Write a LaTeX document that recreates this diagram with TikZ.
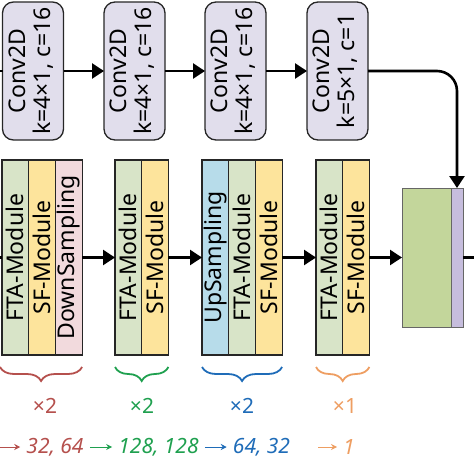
\documentclass[tikz,border=0pt]{standalone}
\usepackage{fontspec}
\setmainfont{Noto Sans}
\usepackage{graphicx}
\usetikzlibrary{arrows.meta, positioning, decorations.pathreplacing}

\definecolor{convfill}{HTML}{E1DEEC}
\definecolor{ftafill}{HTML}{D8E4C8}
\definecolor{sffill}{HTML}{FDE49C}
\definecolor{downfill}{HTML}{F2DADD}
\definecolor{upfill}{HTML}{B7DCEA}
\definecolor{outgreen}{HTML}{C3D69B}
\definecolor{outpurple}{HTML}{C6BDDD}
\definecolor{redc}{HTML}{B5504D}
\definecolor{greenc}{HTML}{1FA04F}
\definecolor{bluec}{HTML}{1F6CB8}
\definecolor{orangec}{HTML}{EE9E62}

\tikzset{
  convbox/.style={draw=black!85, line width=1.3pt, fill=convfill, rounded corners=11pt,
    minimum width=61pt, minimum height=138pt, inner sep=0pt, outer sep=0pt},
  modbox/.style={draw=black!85, line width=1.2pt, minimum width=26.7pt,
    minimum height=195pt, inner sep=0pt, outer sep=0pt},
  outbox/.style={draw=black!60, line width=0.9pt, minimum height=139pt, inner sep=0pt, outer sep=0pt},
  arr/.style={line width=2.6pt, -{Triangle[length=12pt,width=15pt]}},
  thinarr/.style={line width=1pt, -{Stealth[length=6pt,width=6pt]}},
  repbrace/.style={decorate, decoration={brace, mirror, amplitude=14pt}, line width=1.8pt},
  replabel/.style={font=\fontsize{21}{24}\selectfont},
  chan/.style={font=\fontsize{21}{24}\selectfont\itshape, inner sep=6pt},
}

\newcommand{\vtext}[1]{\rotatebox{90}{#1}}
\newcommand{\convtext}[2]{\rotatebox{90}{\begin{tabular}{@{}c@{}}Conv2D\\k=#1, c=#2\end{tabular}}}

\begin{document}
\begin{tikzpicture}[x=1pt, y=-1pt, font=\fontsize{23}{24}\selectfont]
  \useasboundingbox (0,0) rectangle (474,474);

  % top row: convolutions
  \foreach \i/\xx/\kk/\cc in {1/33/4×1/16, 2/134.5/4×1/16, 3/235.5/4×1/16, 4/337.5/5×1/1}
    \node[convbox] (conv\i) at (\xx,71) {\convtext{\kk}{\cc}};
  \coordinate (intop) at (0,71);
  \draw[line width=2.6pt] (intop) -- (conv1);
  \foreach \a/\b in {conv1/conv2, conv2/conv3, conv3/conv4}
    \draw[arr] (\a) -- (\b);

  % bottom row: module stacks
  \node[modbox, fill=ftafill] (fta1) at (15.35,257.5) {\vtext{FTA-Module}};
  \node[modbox, fill=sffill, right=0pt of fta1] (sf1) {\vtext{SF-Module}};
  \node[modbox, fill=downfill, right=0pt of sf1] (down1) {\vtext{DownSampling}};

  \node[modbox, fill=ftafill] (fta2) at (128.35,257.5) {\vtext{FTA-Module}};
  \node[modbox, fill=sffill, right=0pt of fta2] (sf2) {\vtext{SF-Module}};

  \node[modbox, fill=upfill] (up3) at (215.35,257.5) {\vtext{UpSampling}};
  \node[modbox, fill=ftafill, right=0pt of up3] (fta3) {\vtext{FTA-Module}};
  \node[modbox, fill=sffill, right=0pt of fta3] (sf3) {\vtext{SF-Module}};

  \node[modbox, fill=ftafill] (fta4) at (329.35,257.5) {\vtext{FTA-Module}};
  \node[modbox, fill=sffill, right=0pt of fta4] (sf4) {\vtext{SF-Module}};

  % output block
  \node[outbox, fill=outgreen, minimum width=49pt] (outg) at (426.5,257.5) {};
  \node[outbox, fill=outpurple, minimum width=12pt, right=0pt of outg] (outp) {};

  \coordinate (inbot) at (0,257.5);
  \coordinate (outend) at (474,257.5);
  \draw[line width=2.6pt] (inbot) -- (fta1);
  \draw[arr] (down1) -- (fta2);
  \draw[arr] (sf2) -- (up3);
  \draw[arr] (sf3) -- (fta4);
  \draw[arr] (sf4) -- (outg);
  \draw[line width=2.6pt] (outp) -- (outend);
  \draw[arr, rounded corners=20pt] (conv4.east) -| (outp.north);

  % repetitions
  \draw[repbrace, redc] ([xshift=-2pt, yshift=-12pt]fta1.south west) -- ([yshift=-12pt]down1.south east);
  \draw[repbrace, greenc] ([yshift=-12pt]fta2.south west) -- ([yshift=-12pt]sf2.south east);
  \draw[repbrace, bluec] ([yshift=-12pt]up3.south west) -- ([yshift=-12pt]sf3.south east);
  \draw[repbrace, orangec] ([yshift=-12pt]fta4.south west) -- ([yshift=-12pt]sf4.south east);
  \node[replabel, text=redc] (rep1) at (45,406) {×2};
  \node[replabel, text=greenc] (rep2) at (142,406) {×2};
  \node[replabel, text=bluec] (rep3) at (242,406) {×2};
  \node[replabel, text=orangec] (rep4) at (345,406) {×1};

  % channels
  \node[chan, text=redc] (ch1) at (55,447) {32, 64};
  \node[chan, text=greenc] (ch2) at (158.5,447) {128, 128};
  \node[chan, text=bluec] (ch3) at (261.5,447) {64, 32};
  \node[chan, text=orangec] (ch4) at (349,447) {1};
  \coordinate (chin) at (0,447);
  \coordinate (chgap) at (318,447);
  \draw[thinarr, redc] (chin) -- (ch1);
  \draw[thinarr, greenc] (ch1) -- (ch2);
  \draw[thinarr, bluec] (ch2) -- (ch3);
  \draw[thinarr, orangec] (chgap) -- (ch4);
\end{tikzpicture}
\end{document}
